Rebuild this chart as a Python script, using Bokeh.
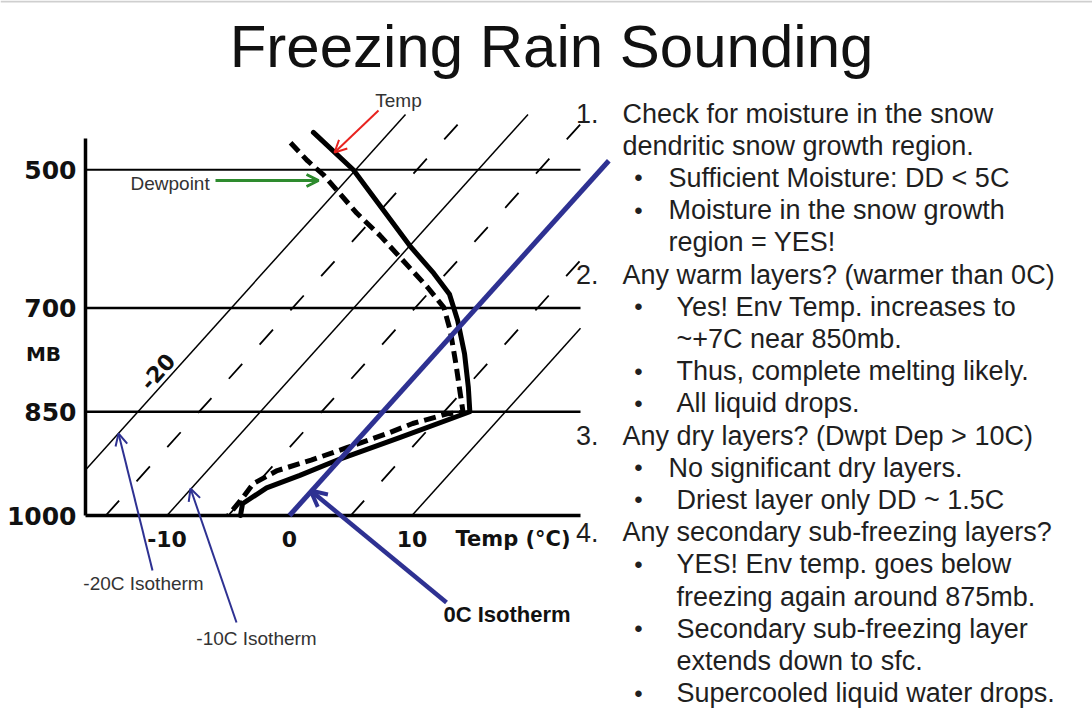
import numpy as np
from bokeh.plotting import figure
from bokeh.models import Range1d, Arrow, OpenHead, Span
from bokeh.core.properties import value
from bokeh.embed import file_html
from bokeh.resources import INLINE

# ---------------- data ----------------
pressure_levels = [500, 700, 850, 1000]
pressure_labels = ["500", "700", "850", "1000"]
temp_ticks = [-10, 0, 10]
temp_tick_labels = ["-10", "0", "10"]
solid_isotherms = [-20, -10, 0, 10]
dashed_isotherms = [-15, -5, 5]
freezing_isotherm = 0

temp_pres = [446, 500, 612, 650, 680, 718, 766, 815, 850, 887, 918, 942, 960, 983, 1000]
temp_degc = [-26.2, -20.2, -9.8, -6.0, -3.2, -0.6, 2.4, 5.2, 7.1, 3.3, 0.0, -2.1, -3.9, -4.7, -4.0]

dewp_pres = [461, 487, 508, 523, 563, 595, 631, 670, 699, 732, 780, 824, 851,
             853, 867, 881, 902, 920, 935, 954, 978, 1000]
dewp_degc = [-27.3, -24.6, -22.2, -20.7, -16.7, -13.2, -9.5, -5.5, -2.7, -0.5, 2.4, 5.0, 6.6,
             5.4, 3.3, 2.0, -0.3, -2.3, -4.3, -5.3, -5.1, -5.0]

title_text = "Freezing Rain Sounding"
list_kind = ["num", "cont", "b1", "b1", "c1", "num", "b2", "c2", "b2", "b2",
             "num", "b1", "b2", "num", "b2", "c2", "b2", "c2", "b2"]
list_number = ["1.", "", "", "", "", "2.", "", "", "", "", "3.", "", "", "4.", "", "", "", "", ""]
list_text = [
    "Check for moisture in the snow",
    "dendritic snow growth region.",
    "Sufficient Moisture: DD < 5C",
    "Moisture in the snow growth",
    "region = YES!",
    "Any warm layers? (warmer than 0C)",
    "Yes!  Env Temp. increases to",
    "~+7C near 850mb.",
    "Thus, complete melting likely.",
    "All liquid drops.",
    "Any dry layers? (Dwpt Dep > 10C)",
    "No significant dry layers.",
    "Driest layer only DD ~ 1.5C",
    "Any secondary sub-freezing layers?",
    "YES!  Env temp. goes below",
    "freezing again around 875mb.",
    "Secondary sub-freezing layer",
    "extends down to sfc.",
    "Supercooled liquid water drops.",
]

# ---------------- geometry (skew-T mapping) ----------------
SX = 12.25          # px per degC
X0 = 289.0          # px of 0 degC at 1000 mb
SY = 0.6916         # px per mb
P_REF, Y_REF = 762.5, 350.75
SKEW = 0.9 * SY / SX


def xd(px):
    return (px - X0) / SX


def yd(py):
    return P_REF + (py - Y_REF) / SY


def sk(t, pres):
    return np.asarray(t, dtype=float) + SKEW * (1000.0 - np.asarray(pres, dtype=float))


X_LEFT, X_RIGHT = xd(85), xd(580)
P_TOP, P_BOT = 420.0, 1000.0


def iso_seg(t):
    p_hi = min(P_BOT, 1000.0 - (X_LEFT - t) / SKEW)
    p_lo = max(P_TOP, 1000.0 - (X_RIGHT - t) / SKEW)
    return [float(sk(t, p_hi)), float(sk(t, p_lo))], [p_hi, p_lo]


BLUE = "#2E3192"
FONT = value("Liberation Sans")
HAND = value("DejaVu Sans")

p = figure(width=1092, height=726,
           x_range=Range1d(xd(0), xd(1092)), y_range=Range1d(yd(726), yd(0)),
           output_backend="svg", toolbar_location=None, min_border=0,
           x_axis_location=None, y_axis_location=None, outline_line_color=None,
           background_fill_color="white", border_fill_color="white")
p.xgrid.grid_line_color = None
p.ygrid.grid_line_color = None

p.add_layout(Span(location=yd(1), dimension="width", line_color="#cfcfcf", line_width=2))

# isotherms
sx, sy = zip(*[iso_seg(t) for t in solid_isotherms])
p.multi_line(list(sx), list(sy), line_color="black", line_width=1.5)
dx, dy = zip(*[iso_seg(t) for t in dashed_isotherms])
p.multi_line(list(dx), list(dy), line_color="black", line_width=1.8, line_dash="20 26")

# pressure lines and axis
p.segment(x0=[X_LEFT] * 4, x1=[X_RIGHT] * 4, y0=pressure_levels, y1=pressure_levels,
          line_color="black", line_width=[2, 2.5, 2.5, 3.5])
p.segment(x0=[X_LEFT], x1=[X_LEFT], y0=[yd(138)], y1=[P_BOT], line_color="black", line_width=3.5)

p.text(x=[xd(76)] * 4, y=pressure_levels, text=pressure_labels, text_font=HAND,
       text_font_style="bold", text_font_size="25px", text_align="right",
       text_baseline="middle", text_color="#111111")
p.text(x=[xd(43)], y=[yd(353)], text=["MB"], text_font=HAND, text_font_style="bold",
       text_font_size="20px", text_align="center", text_baseline="middle", text_color="#111111")
p.text(x=temp_ticks, y=[yd(538)] * 3, text=temp_tick_labels, text_font=HAND,
       text_font_style="bold", text_font_size="22px", text_align="center",
       text_baseline="middle", text_color="#111111")
p.text(x=[xd(455)], y=[yd(538)], text=["Temp (°C)"], text_font=HAND, text_font_style="bold",
       text_font_size="21px", text_align="left", text_baseline="middle", text_color="#111111")
p.text(x=[xd(157)], y=[yd(371)], text=["-20"], text_font=HAND, text_font_style="bold",
       text_font_size="22px", text_align="center", text_baseline="middle", angle=0.84,
       text_color="#111111")

# soundings
p.line(sk(dewp_degc, dewp_pres), dewp_pres, line_color="black", line_width=5,
       line_dash="12 6", line_join="round")
p.line(sk(temp_degc, temp_pres), temp_pres, line_color="black", line_width=5,
       line_join="round", line_cap="round")

# 0C isotherm (blue)
p.line(sk([freezing_isotherm] * 2, [1000, 487]), [1000, 487], line_color=BLUE, line_width=5)

# annotation labels
p.text(x=[xd(398)], y=[yd(100)], text=["Temp"], text_font=FONT, text_font_size="19px",
       text_align="center", text_baseline="middle", text_color="#333333")
p.text(x=[xd(130)], y=[yd(183)], text=["Dewpoint"], text_font=FONT, text_font_size="19px",
       text_align="left", text_baseline="middle", text_color="#333333")
p.text(x=[xd(143), xd(256)], y=[yd(583), yd(638)], text=["-20C Isotherm", "-10C Isotherm"],
       text_font=FONT, text_font_size="19px", text_align="center", text_baseline="middle",
       text_color="#333333")
p.text(x=[xd(443)], y=[yd(614)], text=["0C Isotherm"], text_font=FONT, text_font_style="bold",
       text_font_size="22px", text_align="left", text_baseline="middle", text_color="#111111")

# arrows
p.add_layout(Arrow(x_start=xd(378), y_start=yd(110), x_end=xd(334), y_end=yd(152),
                   line_color="#E8231F", line_width=2,
                   end=OpenHead(size=12, line_color="#E8231F", line_width=2)))
p.add_layout(Arrow(x_start=xd(215), y_start=yd(180), x_end=xd(318), y_end=yd(180),
                   line_color="#2E8B2E", line_width=3,
                   end=OpenHead(size=12, line_color="#2E8B2E", line_width=3)))
p.add_layout(Arrow(x_start=xd(152), y_start=yd(570), x_end=xd(118), y_end=yd(433),
                   line_color=BLUE, line_width=2,
                   end=OpenHead(size=12, line_color=BLUE, line_width=2)))
p.add_layout(Arrow(x_start=xd(236), y_start=yd(622), x_end=xd(190), y_end=yd(488),
                   line_color=BLUE, line_width=2,
                   end=OpenHead(size=12, line_color=BLUE, line_width=2)))
p.add_layout(Arrow(x_start=xd(446), y_start=yd(602), x_end=xd(310), y_end=yd(490),
                   line_color=BLUE, line_width=4.5,
                   end=OpenHead(size=16, line_color=BLUE, line_width=4)))

# title
p.text(x=[xd(551)], y=[yd(46)], text=[title_text], text_font=FONT, text_font_size="60px",
       text_align="center", text_baseline="middle", text_color="#111111")

# right-hand list
indent = {"num": 622, "cont": 622, "b1": 668, "c1": 668, "b2": 676, "c2": 676}
line_y = [yd(113 + i * 32.2) for i in range(len(list_text))]
p.text(x=[xd(indent[k]) for k in list_kind], y=line_y, text=list_text, text_font=FONT,
       text_font_size="27px", text_align="left", text_baseline="middle", text_color="#1f1f1f")
num_idx = [i for i, k in enumerate(list_kind) if k == "num"]
p.text(x=[xd(598)] * len(num_idx), y=[line_y[i] for i in num_idx],
       text=[list_number[i] for i in num_idx], text_font=FONT, text_font_size="27px",
       text_align="right", text_baseline="middle", text_color="#1f1f1f")
bul_idx = [i for i, k in enumerate(list_kind) if k in ("b1", "b2")]
p.text(x=[xd(638)] * len(bul_idx), y=[line_y[i] for i in bul_idx], text=["•"] * len(bul_idx),
       text_font=FONT, text_font_size="24px", text_align="center", text_baseline="middle",
       text_color="#1f1f1f")

open("out.html", "w").write(file_html(p, INLINE))
